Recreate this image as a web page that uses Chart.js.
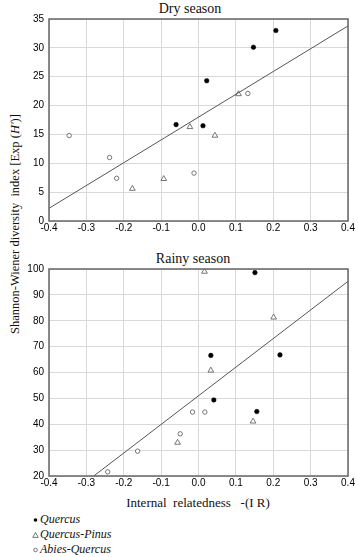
<!DOCTYPE html>
<html>
<head>
<meta charset="utf-8">
<script src="https://cdn.jsdelivr.net/npm/chart.js@4/dist/chart.umd.min.js"></script>
<style>
  body { margin: 0; background: #fff; width: 358px; height: 557px; position: relative; overflow: hidden;
         font-family: "Liberation Serif", "Times New Roman", serif; color: #111; }
  canvas { position: absolute; left: 0; }
  .txt { position: absolute; white-space: pre; line-height: 16px; }
  .title { font-size: 14px; transform: translateX(-50%); }
  .ytitle { font-size: 12.5px; left: 15px; top: 224px; transform: translate(-50%, -50%) rotate(-90deg); }
  .xtitle { font-size: 13px; left: 198px; top: 495px; transform: translateX(-50%); }
  .legend { position: absolute; left: 32px; font-size: 12px; font-style: italic; line-height: 15px; }
  .legend svg { vertical-align: middle; margin-right: 1px; }
</style>
</head>
<body>
<div class="txt title" style="left:190px; top:1px">Dry season</div>
<div class="txt title" style="left:193px; top:251px">Rainy season</div>
<div class="txt ytitle">Shannon-Wiener diversity  index [Exp (<i>H'</i>)]</div>
<div class="txt xtitle">Internal  relatedness   -(I R)</div>
<div class="legend" style="top:512px">
  <div><svg width="7" height="8"><circle cx="3.5" cy="4" r="1.8" fill="#000"/></svg>Quercus</div>
  <div><svg width="7" height="8"><path d="M3.5 1.4 L6.2 6.4 L0.8 6.4 Z" fill="none" stroke="#555" stroke-width="0.8"/></svg>Quercus-Pinus</div>
  <div><svg width="7" height="8"><circle cx="3.5" cy="4" r="1.8" fill="none" stroke="#555" stroke-width="0.8"/></svg>Abies-Quercus</div>
</div>

<canvas id="dryChart" width="358" height="240" style="top:0"></canvas>
<canvas id="rainyChart" width="358" height="245" style="top:250px"></canvas>

<script>
// x axis: internal relatedness -(IR)
const xTicks = [-0.4, -0.3, -0.2, -0.1, 0.0, 0.1, 0.2, 0.3, 0.4];
const dryTicks = [0, 5, 10, 15, 20, 25, 30, 35];
const rainyTicks = [20, 30, 40, 50, 60, 70, 80, 90, 100];

// Dry season
const dryQuercusX = [-0.06, 0.012, 0.022, 0.147, 0.207];
const dryQuercusY = [16.7, 16.5, 24.3, 30.1, 33.0];
const dryPinusX = [-0.177, -0.093, -0.023, 0.044, 0.107];
const dryPinusY = [5.6, 7.3, 16.3, 14.8, 22.0];
const dryAbiesX = [-0.346, -0.238, -0.219, -0.012, 0.132];
const dryAbiesY = [14.8, 11.0, 7.4, 8.3, 22.1];
const dryFit = { intercept: 18.0, slope: 39.5 };

// Rainy season
const rainyQuercusX = [0.151, 0.033, 0.218, 0.041, 0.156];
const rainyQuercusY = [98.6, 66.6, 66.8, 49.4, 44.9];
const rainyPinusX = [0.016, 0.201, 0.033, 0.146, -0.056];
const rainyPinusY = [99.0, 81.3, 60.8, 41.1, 32.9];
const rainyAbiesX = [-0.016, 0.017, -0.049, -0.163, -0.243];
const rainyAbiesY = [44.7, 44.7, 36.3, 29.6, 21.6];
const rainyFit = { intercept: 51.0, slope: 110.6 };

const toPoints = (xs, ys) => xs.map((x, i) => ({ x: x, y: ys[i] }));
const fitLine = (fit) => [xTicks[0], xTicks[xTicks.length - 1]].map(x => ({ x: x, y: fit.intercept + fit.slope * x }));

// draws the full box round the plot area
const frame = {
  id: "frame",
  afterDraw(chart) {
    const a = chart.chartArea, ctx = chart.ctx;
    ctx.save();
    ctx.strokeStyle = "#666";
    ctx.lineWidth = 1.5;
    ctx.strokeRect(a.left, a.top, a.right - a.left, a.bottom - a.top);
    ctx.restore();
  },
};

const tickFont = { family: "'Liberation Sans', Arial, sans-serif", size: 10 };
const gridStyle = { color: "#d9d9d9", borderDash: [1, 2], drawTicks: false };

function makeChart(id, yTicks, quercus, pinus, abies, fit) {
  return new Chart(document.getElementById(id), {
    type: "scatter",
    data: {
      datasets: [
        {
          type: "line",
          data: fitLine(fit),
          borderColor: "#555",
          borderWidth: 1,
          pointRadius: 0,
          fill: false,
        },
        {
          data: quercus,
          pointStyle: "circle",
          pointRadius: 2.3,
          backgroundColor: "#000",
          borderColor: "#000",
          borderWidth: 0.5,
        },
        {
          data: pinus,
          pointStyle: "triangle",
          pointRadius: 3.3,
          backgroundColor: "#fff",
          borderColor: "#555",
          borderWidth: 0.8,
        },
        {
          data: abies,
          pointStyle: "circle",
          pointRadius: 2.2,
          backgroundColor: "#fff",
          borderColor: "#555",
          borderWidth: 0.8,
        },
      ],
    },
    options: {
      responsive: false,
      animation: false,
      devicePixelRatio: 1,
      layout: { padding: { left: 0, right: 10, top: 19, bottom: 0 } },
      scales: {
        x: {
          type: "linear",
          min: xTicks[0],
          max: xTicks[xTicks.length - 1],
          afterBuildTicks: (s) => { s.ticks = xTicks.map(v => ({ value: v })); },
          afterFit: (s) => { s.height = 19; },
          grid: gridStyle,
          border: { display: false },
          ticks: { padding: 1, color: "#000", font: tickFont, maxRotation: 0, callback: (v) => v.toFixed(1) },
        },
        y: {
          min: yTicks[0],
          max: yTicks[yTicks.length - 1],
          afterBuildTicks: (s) => { s.ticks = yTicks.map(v => ({ value: v })); },
          afterFit: (s) => { s.width = 49; },
          grid: gridStyle,
          border: { display: false },
          ticks: { padding: 5, color: "#000", font: tickFont },
        },
      },
      plugins: {
        legend: { display: false },
        tooltip: { enabled: false },
      },
    },
    plugins: [frame],
  });
}

makeChart("dryChart", dryTicks,
  toPoints(dryQuercusX, dryQuercusY), toPoints(dryPinusX, dryPinusY), toPoints(dryAbiesX, dryAbiesY), dryFit);
makeChart("rainyChart", rainyTicks,
  toPoints(rainyQuercusX, rainyQuercusY), toPoints(rainyPinusX, rainyPinusY), toPoints(rainyAbiesX, rainyAbiesY), rainyFit);
</script>
</body>
</html>
